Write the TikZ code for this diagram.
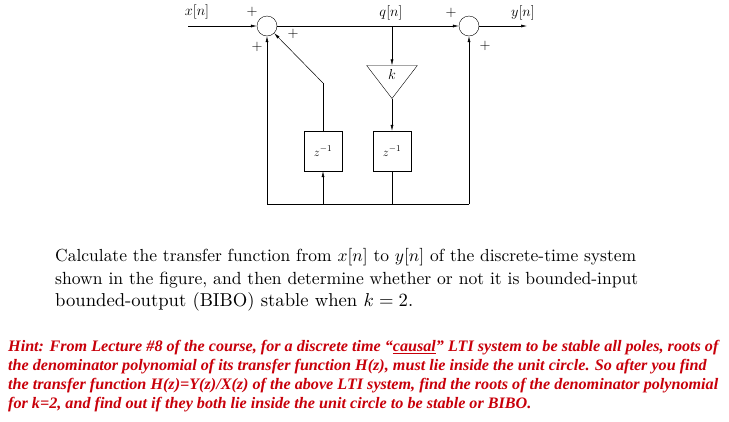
\documentclass[tikz,border=0pt]{standalone}
\usepackage{fontspec}
\newfontfamily\hintfont{Liberation Serif}
\usetikzlibrary{arrows.meta,shapes.geometric}
\definecolor{hint}{HTML}{C8000A}
\newcommand{\hintline}[1]{\scalebox{1.01}[1]{\fontsize{16pt}{16pt}\hintfont\bfseries\itshape #1}}
\begin{document}
\begin{tikzpicture}[x=1pt,y=-1pt,
  sig/.style={draw,line width=0.5pt,-{Latex[length=6pt,width=3pt]}},
  ln/.style={draw,line width=0.5pt},
  sumc/.style={circle,draw,minimum size=20pt,inner sep=0pt},
  dbox/.style={draw,minimum width=38pt,minimum height=40pt,inner sep=0pt,font=\fontsize{13pt}{13pt}\selectfont},
  lbl/.style={font=\fontsize{15pt}{15pt}\selectfont,inner sep=0pt},
  hl/.style={anchor=west,inner sep=0pt,text=hint}]
\useasboundingbox (0,0) rectangle (729,421);
\node[sumc] (s1) at (267,26) {};
\node[sumc] (s2) at (469,26) {};
\node[draw,isosceles triangle,shape border rotate=-90,isosceles triangle apex angle=75,minimum height=33pt,inner sep=0pt] (k) at (392,78) {};
\node[lbl] at (392,74) {$k$};
\node[dbox] (d1) at (323,151) {$z^{-1}$};
\node[dbox] (d2) at (392,151) {$z^{-1}$};
\coordinate (xin) at (188,26);
\coordinate (yout) at (527,26);
\coordinate (q) at (392,26);
\coordinate (b1) at (267,204);
\coordinate (bd1) at (323,204);
\coordinate (bd2) at (392,204);
\coordinate (b2) at (469,204);
\coordinate (t1) at (323,83);
\draw[sig] (xin) -- (s1);
\draw[sig] (s1) -- (s2);
\draw[sig] (s2) -- (yout);
\draw[sig] (q) -- (k.north);
\draw[sig] (k.apex) -- (d2);
\draw[ln] (d2) -- (bd2);
\draw[ln] (b1) -- (b2);
\draw[sig] (b1) -- (s1);
\draw[sig] (b2) -- (s2);
\draw[sig] (bd1) -- (d1);
\draw[ln] (d1) -- (t1);
\draw[sig] (t1) -- (s1.-45);
\node[lbl] at (197,12) {$x[n]$};
\node[lbl] at (252,12) {$+$};
\node[lbl] at (293,34) {$+$};
\node[lbl] at (257,47) {$+$};
\node[lbl] at (391,13) {$q[n]$};
\node[lbl] at (451,13) {$+$};
\node[lbl] at (523,13) {$y[n]$};
\node[lbl] at (485,46) {$+$};
\node[anchor=west,inner sep=0pt] at (55,257) {\resizebox{581pt}{!}{Calculate the transfer function from $x[n]$ to $y[n]$ of the discrete-time system}};
\node[anchor=west,inner sep=0pt] at (55,280) {\resizebox{583pt}{!}{shown in the figure, and then determine whether or not it is bounded-input}};
\node[anchor=west,inner sep=0pt] at (55,302) {\resizebox{358pt}{!}{bounded-output (BIBO) stable when $k=2$.}};
\node[hl] at (8,348) {\hintline{Hint: From Lecture \#8 of the course, for a discrete time “\underline{causal}” LTI system to be stable all poles, roots of}};
\node[hl] at (8,367) {\hintline{the denominator polynomial of its transfer function H(z), must lie inside the unit circle. So after you find}};
\node[hl] at (8,386) {\hintline{the transfer function H(z)=Y(z)/X(z) of the above LTI system, find the roots of the denominator polynomial}};
\node[hl] at (8,405) {\hintline{for k=2, and find out if they both lie inside the unit circle to be stable or BIBO.}};
\end{tikzpicture}
\end{document}
